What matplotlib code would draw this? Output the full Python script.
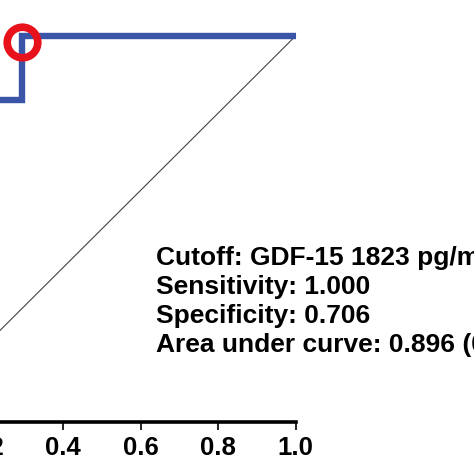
import matplotlib
matplotlib.use("Agg")
import matplotlib.pyplot as plt

plt.rcParams['font.family'] = ['Liberation Sans', 'DejaVu Sans']

# ROC curve points (1 - specificity, sensitivity)
fpr = [0.0, 0.0, 0.059, 0.059, 0.118, 0.118, 0.294, 0.294, 1.0]
tpr = [0.0, 0.5, 0.5, 0.667, 0.667, 0.835, 0.835, 1.0, 1.0]
cut_x = 0.294
cut_y = 0.985

xticks = [0.0, 0.2, 0.4, 0.6, 0.8, 1.0]
xlabels = ["0.0", "0.2", "0.4", "0.6", "0.8", "1.0"]

info = ["Cutoff: GDF-15 1823 pg/mL",
        "Sensitivity: 1.000",
        "Specificity: 0.706",
        "Area under curve: 0.896 (0.750-1.000)"]

fig = plt.figure(figsize=(4.74, 4.74), dpi=100)
ax = fig.add_axes([-0.194, 0.1097, 0.8175, 0.8143])

ax.plot([0, 1], [0, 1], color="#444444", lw=0.8, clip_on=False)
ax.plot(fpr, tpr, color="#3A55A8", lw=4.6, clip_on=False,
        solid_joinstyle="miter", solid_capstyle="butt")
ax.plot([cut_x], [cut_y], marker="o", ms=22, mfc="none", mec="#E8121C",
        mew=5.5, clip_on=False)

ax.set_xlim(0, 1)
ax.set_ylim(0, 1)
for s in ["top", "right", "left"]:
    ax.spines[s].set_visible(False)
ax.spines["bottom"].set_linewidth(2.6)
ax.set_xticks(xticks)
ax.set_xticklabels(xlabels, fontsize=18.5, fontweight="bold")
ax.tick_params(axis="x", length=6, width=1.2, pad=4)
ax.set_yticks([])

for i, line in enumerate(info):
    fig.text(156 / 474, 1 - (265 + i * 29) / 474, line, fontsize=19,
             fontweight="bold", va="baseline", ha="left")

fig.savefig("out.png", dpi=100)
